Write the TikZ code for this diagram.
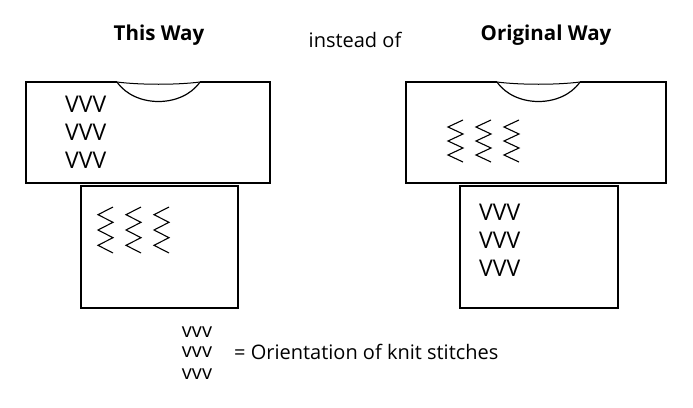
\documentclass[tikz,border=0pt]{standalone}
\usepackage{fontspec}
\setmainfont{Open Sans}
\begin{document}
\begin{tikzpicture}[x=1pt,y=-1pt,
  box/.style={draw,line width=1.5pt},
  zz/.style={line width=1.1pt},
  t/.style={font=\fontsize{23}{26}\selectfont,inner sep=0pt},
  title/.style={font=\fontsize{20.5}{24}\selectfont\bfseries,inner sep=0pt}]
\useasboundingbox (0,0) rectangle (693,407);
% left sweater
\draw[box,line join=miter] (117,82) -- (26,82) -- (26,183) -- (270,183) -- (270,82) -- (200,82);
\draw[line width=1.2pt] (117,82) .. controls (135,108) and (182,108) .. (200,82);
\draw[line width=1pt] (117,82) .. controls (140,85) and (177,85) .. (200,82);
\node[box,minimum width=157pt,minimum height=122pt,anchor=north west] (lb) at (80,185) {};
% right sweater
\draw[box,line join=miter] (497,82) -- (406,82) -- (406,183) -- (666,183) -- (666,82) -- (580,82);
\draw[line width=1.2pt] (497,82) .. controls (515,108) and (562,108) .. (580,82);
\draw[line width=1pt] (497,82) .. controls (520,85) and (557,85) .. (580,82);
\node[box,minimum width=158pt,minimum height=122pt,anchor=north west] (rb) at (459,185) {};
% zigzags
\foreach \x in {98,126,154}
  \draw[zz] (\x+15,207) -- (\x,214.7) -- (\x+15,222.3) -- (\x,230) -- (\x+15,237.7) -- (\x,245.3) -- (\x+15,253);
\foreach \x in {448,476,504}
  \draw[zz] (\x+15,120) -- (\x,127) -- (\x+15,134) -- (\x,141) -- (\x+15,148) -- (\x,155) -- (\x+15,162);
% texts
\node[title] (t1) at (159,35) {This Way};
\node[t,font=\fontsize{20}{24}\selectfont] (t2) at (355,40) {instead of};
\node[title] (t3) at (546,35) {Original Way};
\foreach \y/\n in {104/a,132/b,160/c} \node[t,anchor=west] (l\n) at (65,\y) {VVV};
\foreach \y/\n in {212/a,240/b,268/c} \node[t,anchor=west] (r\n) at (479,\y) {VVV};
\foreach \y/\n in {332/a,352/b,374/c} \node[t,font=\fontsize{20}{22}\selectfont] (k\n) at (197,\y) {vvv};
\node[t,anchor=west,font=\fontsize{20}{22}\selectfont] (leg) at (234,352) {= Orientation of knit stitches};
\end{tikzpicture}
\end{document}
